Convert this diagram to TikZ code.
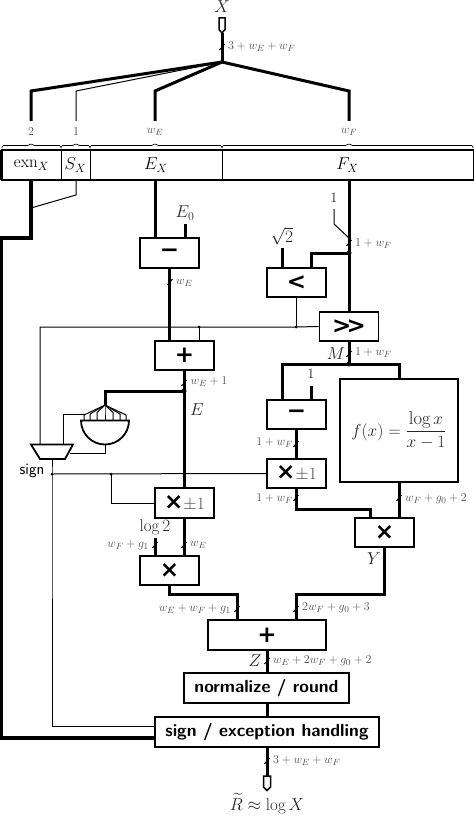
\documentclass[tikz,border=0pt]{standalone}
\usepackage{amsmath}
\usepackage{amssymb}
\usepackage{fontspec}
\usepackage{tikz}
\newfontfamily\opfont{DejaVu Sans Bold}
\newcommand{\opsym}[1]{{\opfont\fontsize{23}{23}\selectfont #1}}

\tikzset{
  bus/.style={line width=3pt,line join=miter},
  wire/.style={line width=1pt},
  slash/.style={line width=1pt},
  opbox/.style={draw,line width=1.8pt,fill=white,inner sep=0pt,minimum width=59pt,minimum height=29.5pt},
  textbox/.style={opbox,font=\sffamily\bfseries\fontsize{17.5}{20}\selectfont},
  fieldbox/.style={draw,line width=1pt,inner sep=0pt,minimum height=29.5pt,font=\fontsize{17}{20}\selectfont},
  big/.style={inner sep=0pt,text=black!85,font=\fontsize{17}{20}\selectfont},
  wlabel/.style={inner sep=0pt,text=black!70,font=\fontsize{12.5}{14}\selectfont},
  dot/.style={circle,fill,inner sep=0pt,minimum size=#1},
  dot/.default=3pt
}

\begin{document}
\begin{tikzpicture}[x=1pt,y=-1pt]
    \useasboundingbox (0,0) rectangle (474,840);

    % input and fields
    \node (inX) at (222,7) [big] {$X$};
    \coordinate (pinX) at (222,33);
    \draw[line width=1.5pt,line join=miter] (219,18) -- (225,18) -- (225,29.5) -- (pinX) -- (219,29.5) -- cycle;
    \coordinate (split) at (222,62);
    \node (fieldExn) at (31.5,165) [fieldbox,minimum width=59pt] {$\mathrm{exn}_X$};
    \node (fieldS) at (75.5,165) [fieldbox,minimum width=29pt] {$S_X$};
    \node (fieldE) at (156,165) [fieldbox,minimum width=132pt] {$E_X$};
    \node (fieldF) at (347.5,165) [fieldbox,minimum width=251pt] {$F_X$};
    \draw[line width=1.8pt] (fieldExn.north west) rectangle (fieldF.south east);
    \draw[line width=3pt] (fieldExn.north west) -- (fieldExn.south west);

    \node (lab2) at (31,132) [wlabel] {$2$};
    \node (lab1) at (76,132) [wlabel] {$1$};
    \node (labE) at (155,132) [wlabel] {$w_E$};
    \node (labF) at (349,132) [wlabel] {$w_F$};
    \draw[bus] (pinX) -- (split);
    \draw[bus] (split) -- (31,91) -- (lab2.north |- 0,121);
    \draw[wire] (split) -- (76,91) -- (lab1.north |- 0,121);
    \draw[bus] (split) -- (155,91) -- (labE.north |- 0,121);
    \draw[bus] (split) -- (349,91) -- (labF.north |- 0,121);
    \foreach \xa/\xb/\xm in {2/61/31, 61/90/76, 90/222/155, 222/473/349} {
      \draw[line width=0.7pt,rounded corners=1.5pt] (\xa,148) -- (\xa,145.5) -- (\xm-2,145.5) -- (\xm,143) -- (\xm+2,145.5) -- (\xb,145.5) -- (\xb,148);
    }

    % operators
    \node (subE) at (169.5,253) [opbox] {\opsym{−}};
    \node (addE) at (184.5,355.5) [opbox] {\opsym{+}};
    \node (cmpM) at (296.5,282.5) [opbox] {\opsym{<}};
    \node (shiftM) at (349,326.5) [opbox] {\opsym{>\kern-5pt>}};
    \node (subM) at (296.5,414.5) [opbox] {\opsym{−}};
    \node (signM) at (296.5,473.5) [opbox] {\opsym{×}{\color{black!70}\fontsize{17}{20}\selectfont$\pm1$}};
    \node (signE) at (184.5,503) [opbox] {\opsym{×}{\color{black!70}\fontsize{17}{20}\selectfont$\pm1$}};
    \node (mulE) at (169.5,570.5) [opbox] {\opsym{×}};
    \node (mulF) at (384.5,532.5) [opbox] {\opsym{×}};
    \node (addZ) at (267,635) [opbox,minimum width=118pt] {\opsym{+}};
    \node (tableF) at (399,430.5) [opbox,minimum width=118pt,minimum height=103pt,text=black!85,font=\fontsize{18.5}{21}\selectfont] {$f(x)=\dfrac{\log x}{x-1}$};
    \node (normR) at (266.5,688) [textbox,minimum width=165pt] {normalize / round};
    \node (signR) at (267,732) [textbox,minimum width=224pt] {sign / exception handling};
    \coordinate (pinR) at (267,776);
    \draw[line width=1.5pt,line join=miter] (263.5,776) -- (270.5,776) -- (270.5,787) -- (267,790.5) -- (263.5,787) -- cycle;
    \node (outR) at (267,803.5) [big] {$\widetilde{R}\approx\log X$};

    % constants and names
    \node (labE0) at (185,213) [big] {$E_0$};
    \node (labOne) at (334,198) [big,font=\fontsize{15}{17}\selectfont] {$1$};
    \node (labSqrt) at (282,236) [big] {$\sqrt{2}$};
    \node (labOneM) at (311,374) [big,font=\fontsize{15}{17}\selectfont] {$1$};
    \node (labLog) at (155,527) [big] {$\log 2$};
    \node (labSign) at (32,471) [inner sep=0pt,font=\sffamily\fontsize{16}{18}\selectfont] {sign};
    \node (labEE) at (197,410) [big] {$E$};
    \node (labM) at (336,354) [big] {$M$};
    \node (labY) at (374,559) [big] {$Y$};
    \node (labZ) at (255,661) [big] {$Z$};

    % junctions
    \node (jF) at (349,253) [dot=5pt] {};
    \node (jM) at (349,364) [dot=5pt] {};
    \node (jE) at (184,391) [dot=5pt] {};
    \node (jShiftA) at (199,327) [dot] {};
    \node (jShiftB) at (296,327) [dot] {};
    \node (jSign) at (52,474) [dot] {};
    \node (jSignE) at (111,474) [dot] {};

    % exponent path
    \draw[bus] (fieldE.south -| labE) -- (labE |- subE.north);
    \draw[bus] (labE0 |- 0,224) -- (labE0 |- subE.north);
    \draw[bus] (subE.south) -- (subE.south |- addE.north);
    \draw[bus] (addE.south -| jE) -- (jE.center) -- (jE |- signE.north);
    \draw[bus] (signE.south -| jE) -- (jE |- mulE.north);
    \draw[bus] (labLog |- 0,538) -- (labLog |- mulE.north);
    \draw[bus] (mulE.south) |- (237,594) -- (237,620);

    % mantissa path
    \draw[bus] (fieldF.south -| jF) -- (jF.center) -- (jF |- shiftM.north);
    \draw[wire] (labOne |- 0,209) -- (334,224) -- (349,238);
    \draw[bus] (jF.center) -| (311,268);
    \draw[bus] (labSqrt |- 0,248) -- (labSqrt |- cmpM.north);
    \draw[bus] (shiftM.south) -- (jM.center);
    \draw[bus] (jM.center) -| (282,400);
    \draw[bus] (jM.center) -| (tableF.north);
    \draw[bus] (labOneM |- 0,386) -- (labOneM |- subM.north);
    \draw[bus] (subM.south) -- (signM.north);
    \draw[bus] (signM.south) |- (370,509) -- (370,518);
    \draw[bus] (tableF.south) -- (tableF.south |- mulF.north);
    \draw[bus] (mulF.south) |- (296,594) -- (296,620);

    % output path
    \draw[bus] (addZ.south) -- (addZ.south |- normR.north);
    \draw[bus] (normR.south -| addZ) -- (addZ |- signR.north);
    \draw[bus] (signR.south) -- (pinR);
    \draw[bus,line width=3.5pt] (fieldExn.south -| lab2) |- (1.5,238) -- (1.5,738) -- (155,738);
    \draw[wire] (fieldS.south -| lab1) -- (76,195) -- (31,208);

    % sign and shift control
    \draw[wire] (cmpM.south -| jShiftB) -- (jShiftB.center);
    \draw[wire] (shiftM.west) -- (jShiftB.center) -- (jShiftA.center) -- (40,327) -- (40,444);
    \draw[wire] (jShiftA.center) -- (jShiftA |- addE.north);
    \draw[wire] (jSign.center) -- (signM.west);
    \draw[wire] (jSignE.center) |- (signE.west);
    \draw[wire] (52,459) -- (jSign.center) |- (155,726);

    % table and mux of the exponent
    \coordinate (lutTop) at (105,405);
    \coordinate (lutOut) at (105,444.5);
    \draw[bus] (jE.center) -| (lutTop);
    \draw[line width=1.8pt,fill=white] (81,420.5) arc[start angle=180,end angle=360,radius=24,y radius=-24] -- cycle;
    \foreach \xs/\ys in {84/415,90/414,97/412.5,105/411,113/412.5,120/414,126/415} {
      \draw[wire] (lutTop) -- (\xs,\ys) -- (\xs,420);
    }
    \fill[white] (31,444.5) -- (73,444.5) -- (65,459) -- (40,459) -- cycle;
    \draw[line width=1.8pt,line join=miter] (31,444.5) -- (73,444.5) -- (65,459) -- (40,459) -- cycle;
    \node (jLut) at (84,414.5) [dot=2pt] {};
    \draw[wire] (63.5,444.5) |- (jLut.center);
    \draw[wire] (lutOut) |- (70,453.5);

    % widths
    \foreach \px/\py in {222/47, 170/282, 184/383, 349/243, 349/354, 296/444, 296/498, 399/498, 184/545, 155/545, 237/609, 296/609, 267/661, 267/761} {
      \draw[slash] (\px-2.5,\py+3) -- (\px+2.5,\py-3);
    }
    \node at (228,47) [wlabel,anchor=west] {$3+w_E+w_F$};
    \node at (176,283) [wlabel,anchor=west] {$w_E$};
    \node at (190.5,382) [wlabel,anchor=west] {$w_E+1$};
    \node at (355,244) [wlabel,anchor=west] {$1+w_F$};
    \node at (355,353) [wlabel,anchor=west] {$1+w_F$};
    \node at (293,443) [wlabel,anchor=east] {$1+w_F$};
    \node at (293,499) [wlabel,anchor=east] {$1+w_F$};
    \node at (405,499) [wlabel,anchor=west] {$w_F+g_0+2$};
    \node at (190,545) [wlabel,anchor=west] {$w_E$};
    \node at (149,545) [wlabel,anchor=east] {$w_F+g_1$};
    \node at (231,609) [wlabel,anchor=east] {$w_E+w_F+g_1$};
    \node at (302,608) [wlabel,anchor=west] {$2w_F+g_0+3$};
    \node at (273,661) [wlabel,anchor=west] {$w_E+2w_F+g_0+2$};
    \node at (273,761) [wlabel,anchor=west] {$3+w_E+w_F$};
\end{tikzpicture}
\end{document}
